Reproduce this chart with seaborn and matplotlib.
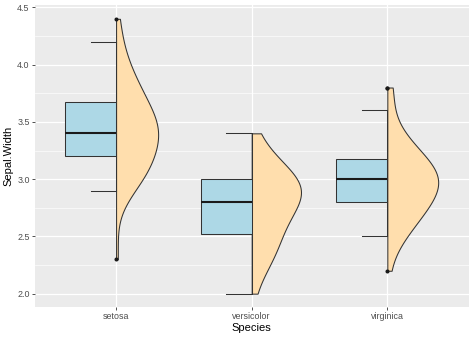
import numpy as np
import pandas as pd
import matplotlib
matplotlib.use("Agg")
import matplotlib.pyplot as plt
from matplotlib.path import Path
from matplotlib.ticker import FixedLocator
import seaborn as sns

# ---------------- data ----------------
species = ["setosa", "versicolor", "virginica"]
setosa = [3.5, 3.0, 3.2, 3.1, 3.6, 3.9, 3.4, 3.4, 2.9, 3.1, 3.7, 3.4, 3.0, 3.0, 4.0,
          4.4, 3.9, 3.5, 3.8, 3.8, 3.4, 3.7, 3.6, 3.3, 3.4, 3.0, 3.4, 3.5, 3.4, 3.2,
          3.1, 3.4, 4.1, 4.2, 3.1, 3.2, 3.5, 3.6, 3.0, 3.4, 3.5, 2.3, 3.2, 3.5, 3.8,
          3.0, 3.8, 3.2, 3.7, 3.3]
versicolor = [3.2, 3.2, 3.1, 2.3, 2.8, 2.8, 3.3, 2.4, 2.9, 2.7, 2.0, 3.0, 2.2, 2.9, 2.9,
              3.1, 3.0, 2.7, 2.2, 2.5, 3.2, 2.8, 2.5, 2.8, 2.9, 3.0, 2.8, 3.0, 2.9, 2.6,
              2.4, 2.4, 2.7, 2.7, 3.0, 3.4, 3.1, 2.3, 3.0, 2.5, 2.6, 3.0, 2.6, 2.3, 2.7,
              3.0, 2.9, 2.9, 2.5, 2.8]
virginica = [3.3, 2.7, 3.0, 2.9, 3.0, 3.0, 2.5, 2.9, 2.5, 3.6, 3.2, 2.7, 3.0, 2.5, 2.8,
             3.2, 3.0, 3.8, 2.6, 2.2, 3.2, 2.8, 2.8, 2.7, 3.3, 3.2, 2.8, 3.0, 2.8, 3.0,
             2.8, 3.8, 2.8, 2.8, 2.6, 3.0, 3.4, 3.1, 3.0, 3.1, 3.1, 3.1, 2.7, 3.2, 3.3,
             3.0, 2.5, 3.0, 3.4, 3.0]
y_ticks = [2.0, 2.5, 3.0, 3.5, 4.0, 4.5]
y_ticklabels = ["2.0", "2.5", "3.0", "3.5", "4.0", "4.5"]
y_minor = [2.25, 2.75, 3.25, 3.75, 4.25]
x_title = "Species"
y_title = "Sepal.Width"

df = pd.DataFrame({
    "Species": np.repeat(species, [len(setosa), len(versicolor), len(virginica)]),
    "Sepal.Width": setosa + versicolor + virginica,
})

# ---------------- style ----------------
plt.rcParams["font.family"] = ["Liberation Sans", "DejaVu Sans"]
BOX_FILL = "#ADD8E6"
VIO_FILL = "#FFDEAD"
EDGE = "#333333"

fig = plt.figure(figsize=(4.74, 3.38), dpi=100)
ax = fig.add_axes([0.0732, 0.0905, 0.9156, 0.8945])
ax.set_facecolor("#EBEBEB")
for s in ax.spines.values():
    s.set_visible(False)

# ---------------- half boxplot (left) ----------------
sns.boxplot(data=df, x="Species", y="Sepal.Width", order=species, width=0.75,
            color=BOX_FILL, saturation=1, linecolor=EDGE, linewidth=0.75,
            whis=1.5, fliersize=1.9,
            flierprops=dict(marker="o", markerfacecolor="#1a1a1a",
                            markeredgecolor="#1a1a1a"),
            medianprops=dict(linewidth=1.5, color="#1a1a1a"),
            ax=ax)

for ln in ax.lines:
    x = np.asarray(ln.get_xdata(), float)
    if x.size == 2 and x[0] != x[1]:
        c = x.mean()
        ln.set_xdata(np.minimum(x, c))
    if ln.get_marker() not in (None, "None", "", " "):
        ln.set_zorder(5)
for p in ax.patches:
    path = p.get_path()
    v = np.array(path.vertices, float)
    c = (v[:, 0].min() + v[:, 0].max()) / 2
    v[:, 0] = np.minimum(v[:, 0], c)
    p.set_path(Path(v, path.codes))

# ---------------- half violin (right) ----------------
n_before = len(ax.collections)
sns.violinplot(data=df, x="Species", y="Sepal.Width", order=species, width=0.75,
               cut=0, inner=None, density_norm="area", bw_adjust=1.2,
               gridsize=200,
               color=VIO_FILL, saturation=1, linecolor=EDGE, linewidth=0.75,
               ax=ax)
for coll in ax.collections[n_before:]:
    new = []
    for path in coll.get_paths():
        v = np.array(path.vertices, float)
        c = (v[:, 0].min() + v[:, 0].max()) / 2
        v[:, 0] = np.maximum(v[:, 0], c)
        new.append(v)
    coll.set_verts(new)
    coll.set_zorder(1.5)

# ---------------- axes ----------------
ax.set_xlim(-0.6, 2.6)
ax.set_ylim(1.88, 4.52)
ax.yaxis.set_major_locator(FixedLocator(y_ticks))
ax.set_yticklabels(y_ticklabels)
ax.yaxis.set_minor_locator(FixedLocator(y_minor))
ax.set_axisbelow(True)
ax.grid(True, which="major", color="white", linewidth=0.9)
ax.grid(True, which="minor", axis="y", color="white", linewidth=0.45)
ax.tick_params(axis="both", which="major", length=2.0, width=0.6, color="#333333",
               labelsize=6.4, labelcolor="#4D4D4D", pad=1.6)
ax.tick_params(axis="y", which="minor", length=0)
ax.set_xlabel(x_title, fontsize=8, color="black", labelpad=1.5)
ax.set_ylabel(y_title, fontsize=8, color="black", labelpad=2.5)

fig.savefig("out.png", dpi=100)
